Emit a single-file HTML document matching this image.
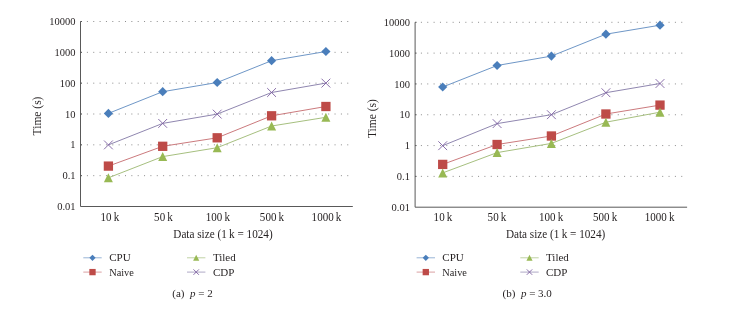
<!DOCTYPE html>
<html><head><meta charset="utf-8"><style>
html,body{margin:0;padding:0;background:#fff;}
body{width:736px;height:310px;overflow:hidden;}
svg{display:block;will-change:transform;font-family:"Liberation Serif", serif;font-size:11px;fill:#231f20;}
</style></head><body>
<svg width="736" height="310" viewBox="0 0 736 310">
<rect width="736" height="310" fill="#fff"/>
<line x1="80.50" y1="21.50" x2="352.80" y2="21.50" stroke="#8c8c8c" stroke-width="1" stroke-dasharray="1 5.35" stroke-dashoffset="-6.40"/>
<line x1="80.50" y1="21.50" x2="82.00" y2="21.50" stroke="#595959" stroke-width="1"/>
<line x1="80.50" y1="52.33" x2="352.80" y2="52.33" stroke="#8c8c8c" stroke-width="1" stroke-dasharray="1 5.35" stroke-dashoffset="-6.40"/>
<line x1="80.50" y1="52.33" x2="82.00" y2="52.33" stroke="#595959" stroke-width="1"/>
<line x1="80.50" y1="83.17" x2="352.80" y2="83.17" stroke="#8c8c8c" stroke-width="1" stroke-dasharray="1 5.35" stroke-dashoffset="-6.40"/>
<line x1="80.50" y1="83.17" x2="82.00" y2="83.17" stroke="#595959" stroke-width="1"/>
<line x1="80.50" y1="114.00" x2="352.80" y2="114.00" stroke="#8c8c8c" stroke-width="1" stroke-dasharray="1 5.35" stroke-dashoffset="-6.40"/>
<line x1="80.50" y1="114.00" x2="82.00" y2="114.00" stroke="#595959" stroke-width="1"/>
<line x1="80.50" y1="144.83" x2="352.80" y2="144.83" stroke="#8c8c8c" stroke-width="1" stroke-dasharray="1 5.35" stroke-dashoffset="-6.40"/>
<line x1="80.50" y1="144.83" x2="82.00" y2="144.83" stroke="#595959" stroke-width="1"/>
<line x1="80.50" y1="175.67" x2="352.80" y2="175.67" stroke="#8c8c8c" stroke-width="1" stroke-dasharray="1 5.35" stroke-dashoffset="-6.40"/>
<line x1="80.50" y1="175.67" x2="82.00" y2="175.67" stroke="#595959" stroke-width="1"/>
<path d="M80.50 21.50V206.50H352.80" stroke="#595959" stroke-width="1" fill="none"/>
<text transform="translate(75.60,25.10) scale(0.93,1)" text-anchor="end" font-size="11.3">10000</text>
<text transform="translate(75.60,55.93) scale(0.93,1)" text-anchor="end" font-size="11.3">1000</text>
<text transform="translate(75.60,86.77) scale(0.93,1)" text-anchor="end" font-size="11.3">100</text>
<text transform="translate(75.60,117.60) scale(0.93,1)" text-anchor="end" font-size="11.3">10</text>
<text transform="translate(75.60,148.43) scale(0.93,1)" text-anchor="end" font-size="11.3">1</text>
<text transform="translate(75.60,179.27) scale(0.93,1)" text-anchor="end" font-size="11.3">0.1</text>
<text transform="translate(75.60,210.10) scale(0.93,1)" text-anchor="end" font-size="11.3">0.01</text>
<text transform="translate(109.90,221.0) scale(0.92,1)" text-anchor="middle" font-size="12">10 k</text>
<text transform="translate(163.50,221.0) scale(0.92,1)" text-anchor="middle" font-size="12">50 k</text>
<text transform="translate(217.80,221.0) scale(0.92,1)" text-anchor="middle" font-size="12">100 k</text>
<text transform="translate(272.00,221.0) scale(0.92,1)" text-anchor="middle" font-size="12">500 k</text>
<text transform="translate(326.50,221.0) scale(0.92,1)" text-anchor="middle" font-size="12">1000 k</text>
<text transform="translate(223.00,237.50) scale(0.975,1)" text-anchor="middle" font-size="11.5">Data size (1 k = 1024)</text>
<text transform="translate(41.00,116.00) rotate(-90)" text-anchor="middle" font-size="11.5">Time (s)</text>
<path d="M108.40 113.40 L162.70 91.70 L217.20 82.50 L271.60 60.70 L325.90 51.50" stroke="#5483bc" stroke-width="0.85" fill="none"/>
<path d="M108.40 108.80L113.00 113.40L108.40 118.00L103.80 113.40Z" fill="#4a7ebb"/>
<path d="M162.70 87.10L167.30 91.70L162.70 96.30L158.10 91.70Z" fill="#4a7ebb"/>
<path d="M217.20 77.90L221.80 82.50L217.20 87.10L212.60 82.50Z" fill="#4a7ebb"/>
<path d="M271.60 56.10L276.20 60.70L271.60 65.30L267.00 60.70Z" fill="#4a7ebb"/>
<path d="M325.90 46.90L330.50 51.50L325.90 56.10L321.30 51.50Z" fill="#4a7ebb"/>
<path d="M108.40 144.90 L162.70 123.40 L217.20 114.10 L271.60 92.50 L325.90 83.10" stroke="#7b70a0" stroke-width="0.85" fill="none"/>
<path d="M104.00 140.50L112.80 149.30M112.80 140.50L104.00 149.30" stroke="#7d60a0" stroke-width="0.9" fill="none"/>
<path d="M158.30 119.00L167.10 127.80M167.10 119.00L158.30 127.80" stroke="#7d60a0" stroke-width="0.9" fill="none"/>
<path d="M212.80 109.70L221.60 118.50M221.60 109.70L212.80 118.50" stroke="#7d60a0" stroke-width="0.9" fill="none"/>
<path d="M267.20 88.10L276.00 96.90M276.00 88.10L267.20 96.90" stroke="#7d60a0" stroke-width="0.9" fill="none"/>
<path d="M321.50 78.70L330.30 87.50M330.30 78.70L321.50 87.50" stroke="#7d60a0" stroke-width="0.9" fill="none"/>
<path d="M108.40 166.10 L162.70 146.30 L217.20 137.80 L271.60 115.80 L325.90 106.50" stroke="#c26266" stroke-width="0.85" fill="none"/>
<rect x="103.75" y="161.45" width="9.30" height="9.30" fill="#be4b48"/>
<rect x="158.05" y="141.65" width="9.30" height="9.30" fill="#be4b48"/>
<rect x="212.55" y="133.15" width="9.30" height="9.30" fill="#be4b48"/>
<rect x="266.95" y="111.15" width="9.30" height="9.30" fill="#be4b48"/>
<rect x="321.25" y="101.85" width="9.30" height="9.30" fill="#be4b48"/>
<path d="M108.40 177.80 L162.70 156.60 L217.20 147.70 L271.60 126.00 L325.90 117.30" stroke="#96b468" stroke-width="0.85" fill="none"/>
<path d="M108.40 173.30L112.90 182.30L103.90 182.30Z" fill="#98b954"/>
<path d="M162.70 152.10L167.20 161.10L158.20 161.10Z" fill="#98b954"/>
<path d="M217.20 143.20L221.70 152.20L212.70 152.20Z" fill="#98b954"/>
<path d="M271.60 121.50L276.10 130.50L267.10 130.50Z" fill="#98b954"/>
<path d="M325.90 112.80L330.40 121.80L321.40 121.80Z" fill="#98b954"/>
<line x1="83.30" y1="257.80" x2="101.70" y2="257.80" stroke="#5483bc" stroke-width="1" opacity="0.6"/>
<path d="M92.50 254.67L95.63 257.80L92.50 260.93L89.37 257.80Z" fill="#4a7ebb"/>
<text transform="translate(109.20,261.30) scale(1.0,1)" font-size="11">CPU</text>
<line x1="83.30" y1="272.10" x2="101.70" y2="272.10" stroke="#c26266" stroke-width="1" opacity="0.6"/>
<rect x="89.34" y="268.94" width="6.32" height="6.32" fill="#be4b48"/>
<text transform="translate(109.20,275.60) scale(0.94,1)" font-size="11">Naive</text>
<line x1="187.00" y1="257.80" x2="205.40" y2="257.80" stroke="#96b468" stroke-width="1" opacity="0.6"/>
<path d="M196.20 254.74L199.26 260.86L193.14 260.86Z" fill="#98b954"/>
<text transform="translate(212.90,261.30) scale(1.0,1)" font-size="11">Tiled</text>
<line x1="187.00" y1="272.10" x2="205.40" y2="272.10" stroke="#7b70a0" stroke-width="1" opacity="0.6"/>
<path d="M193.47 269.37L198.93 274.83M198.93 269.37L193.47 274.83" stroke="#7d60a0" stroke-width="0.9" fill="none"/>
<text transform="translate(212.90,275.60) scale(1.0,1)" font-size="11">CDP</text>
<text x="192.50" y="296.50" text-anchor="middle" font-size="11">(a) <tspan font-style="italic">p</tspan> = 2</text>
<line x1="415.10" y1="22.30" x2="687.10" y2="22.30" stroke="#8c8c8c" stroke-width="1" stroke-dasharray="1 5.35" stroke-dashoffset="-5.80"/>
<line x1="415.10" y1="22.30" x2="416.60" y2="22.30" stroke="#595959" stroke-width="1"/>
<line x1="415.10" y1="53.12" x2="687.10" y2="53.12" stroke="#8c8c8c" stroke-width="1" stroke-dasharray="1 5.35" stroke-dashoffset="-5.80"/>
<line x1="415.10" y1="53.12" x2="416.60" y2="53.12" stroke="#595959" stroke-width="1"/>
<line x1="415.10" y1="83.93" x2="687.10" y2="83.93" stroke="#8c8c8c" stroke-width="1" stroke-dasharray="1 5.35" stroke-dashoffset="-5.80"/>
<line x1="415.10" y1="83.93" x2="416.60" y2="83.93" stroke="#595959" stroke-width="1"/>
<line x1="415.10" y1="114.75" x2="687.10" y2="114.75" stroke="#8c8c8c" stroke-width="1" stroke-dasharray="1 5.35" stroke-dashoffset="-5.80"/>
<line x1="415.10" y1="114.75" x2="416.60" y2="114.75" stroke="#595959" stroke-width="1"/>
<line x1="415.10" y1="145.57" x2="687.10" y2="145.57" stroke="#8c8c8c" stroke-width="1" stroke-dasharray="1 5.35" stroke-dashoffset="-5.80"/>
<line x1="415.10" y1="145.57" x2="416.60" y2="145.57" stroke="#595959" stroke-width="1"/>
<line x1="415.10" y1="176.38" x2="687.10" y2="176.38" stroke="#8c8c8c" stroke-width="1" stroke-dasharray="1 5.35" stroke-dashoffset="-5.80"/>
<line x1="415.10" y1="176.38" x2="416.60" y2="176.38" stroke="#595959" stroke-width="1"/>
<path d="M415.10 22.30V207.20H687.10" stroke="#595959" stroke-width="1" fill="none"/>
<text transform="translate(410.00,25.90) scale(0.93,1)" text-anchor="end" font-size="11.3">10000</text>
<text transform="translate(410.00,56.72) scale(0.93,1)" text-anchor="end" font-size="11.3">1000</text>
<text transform="translate(410.00,87.53) scale(0.93,1)" text-anchor="end" font-size="11.3">100</text>
<text transform="translate(410.00,118.35) scale(0.93,1)" text-anchor="end" font-size="11.3">10</text>
<text transform="translate(410.00,149.17) scale(0.93,1)" text-anchor="end" font-size="11.3">1</text>
<text transform="translate(410.00,179.98) scale(0.93,1)" text-anchor="end" font-size="11.3">0.1</text>
<text transform="translate(410.00,210.80) scale(0.93,1)" text-anchor="end" font-size="11.3">0.01</text>
<text transform="translate(443.00,221.0) scale(0.92,1)" text-anchor="middle" font-size="12">10 k</text>
<text transform="translate(497.00,221.0) scale(0.92,1)" text-anchor="middle" font-size="12">50 k</text>
<text transform="translate(551.20,221.0) scale(0.92,1)" text-anchor="middle" font-size="12">100 k</text>
<text transform="translate(605.10,221.0) scale(0.92,1)" text-anchor="middle" font-size="12">500 k</text>
<text transform="translate(659.60,221.0) scale(0.92,1)" text-anchor="middle" font-size="12">1000 k</text>
<text transform="translate(555.60,237.60) scale(0.975,1)" text-anchor="middle" font-size="11.5">Data size (1 k = 1024)</text>
<text transform="translate(376.30,118.60) rotate(-90)" text-anchor="middle" font-size="11.5">Time (s)</text>
<path d="M442.70 87.00 L497.10 65.50 L551.40 56.10 L605.90 34.20 L660.00 25.20" stroke="#5483bc" stroke-width="0.85" fill="none"/>
<path d="M442.70 82.40L447.30 87.00L442.70 91.60L438.10 87.00Z" fill="#4a7ebb"/>
<path d="M497.10 60.90L501.70 65.50L497.10 70.10L492.50 65.50Z" fill="#4a7ebb"/>
<path d="M551.40 51.50L556.00 56.10L551.40 60.70L546.80 56.10Z" fill="#4a7ebb"/>
<path d="M605.90 29.60L610.50 34.20L605.90 38.80L601.30 34.20Z" fill="#4a7ebb"/>
<path d="M660.00 20.60L664.60 25.20L660.00 29.80L655.40 25.20Z" fill="#4a7ebb"/>
<path d="M442.70 145.70 L497.10 123.60 L551.40 114.70 L605.90 92.70 L660.00 83.50" stroke="#7b70a0" stroke-width="0.85" fill="none"/>
<path d="M438.30 141.30L447.10 150.10M447.10 141.30L438.30 150.10" stroke="#7d60a0" stroke-width="0.9" fill="none"/>
<path d="M492.70 119.20L501.50 128.00M501.50 119.20L492.70 128.00" stroke="#7d60a0" stroke-width="0.9" fill="none"/>
<path d="M547.00 110.30L555.80 119.10M555.80 110.30L547.00 119.10" stroke="#7d60a0" stroke-width="0.9" fill="none"/>
<path d="M601.50 88.30L610.30 97.10M610.30 88.30L601.50 97.10" stroke="#7d60a0" stroke-width="0.9" fill="none"/>
<path d="M655.60 79.10L664.40 87.90M664.40 79.10L655.60 87.90" stroke="#7d60a0" stroke-width="0.9" fill="none"/>
<path d="M442.70 164.40 L497.10 144.50 L551.40 136.00 L605.90 114.00 L660.00 105.10" stroke="#c26266" stroke-width="0.85" fill="none"/>
<rect x="438.05" y="159.75" width="9.30" height="9.30" fill="#be4b48"/>
<rect x="492.45" y="139.85" width="9.30" height="9.30" fill="#be4b48"/>
<rect x="546.75" y="131.35" width="9.30" height="9.30" fill="#be4b48"/>
<rect x="601.25" y="109.35" width="9.30" height="9.30" fill="#be4b48"/>
<rect x="655.35" y="100.45" width="9.30" height="9.30" fill="#be4b48"/>
<path d="M442.70 172.90 L497.10 152.60 L551.40 143.40 L605.90 122.20 L660.00 112.20" stroke="#96b468" stroke-width="0.85" fill="none"/>
<path d="M442.70 168.40L447.20 177.40L438.20 177.40Z" fill="#98b954"/>
<path d="M497.10 148.10L501.60 157.10L492.60 157.10Z" fill="#98b954"/>
<path d="M551.40 138.90L555.90 147.90L546.90 147.90Z" fill="#98b954"/>
<path d="M605.90 117.70L610.40 126.70L601.40 126.70Z" fill="#98b954"/>
<path d="M660.00 107.70L664.50 116.70L655.50 116.70Z" fill="#98b954"/>
<line x1="416.60" y1="257.80" x2="435.00" y2="257.80" stroke="#5483bc" stroke-width="1" opacity="0.6"/>
<path d="M425.80 254.67L428.93 257.80L425.80 260.93L422.67 257.80Z" fill="#4a7ebb"/>
<text transform="translate(442.30,261.30) scale(1.0,1)" font-size="11">CPU</text>
<line x1="416.60" y1="272.10" x2="435.00" y2="272.10" stroke="#c26266" stroke-width="1" opacity="0.6"/>
<rect x="422.64" y="268.94" width="6.32" height="6.32" fill="#be4b48"/>
<text transform="translate(442.30,275.60) scale(0.94,1)" font-size="11">Naive</text>
<line x1="520.30" y1="257.80" x2="538.70" y2="257.80" stroke="#96b468" stroke-width="1" opacity="0.6"/>
<path d="M529.50 254.74L532.56 260.86L526.44 260.86Z" fill="#98b954"/>
<text transform="translate(546.00,261.30) scale(1.0,1)" font-size="11">Tiled</text>
<line x1="520.30" y1="272.10" x2="538.70" y2="272.10" stroke="#7b70a0" stroke-width="1" opacity="0.6"/>
<path d="M526.77 269.37L532.23 274.83M532.23 269.37L526.77 274.83" stroke="#7d60a0" stroke-width="0.9" fill="none"/>
<text transform="translate(546.00,275.60) scale(1.0,1)" font-size="11">CDP</text>
<text x="527.20" y="296.50" text-anchor="middle" font-size="11">(b) <tspan font-style="italic">p</tspan> = 3.0</text>
</svg>
</body></html>
